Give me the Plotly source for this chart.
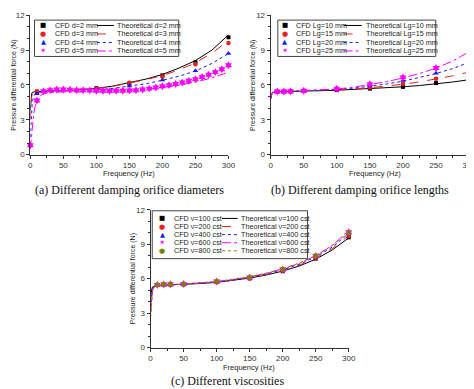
import plotly.graph_objects as go

W, H = 474, 389

# ---------------- data ----------------
F_TH = [0, 1, 2, 3, 5, 7, 10, 15, 20, 30, 40, 50, 75, 100, 125, 150, 175, 200, 225, 250, 275, 300]

# (a) damping orifice diameters
A_LABELS = ["d=2 mm", "d=3 mm", "d=4 mm", "d=5 mm"]
A_CFD_F = [10, 100, 150, 200, 250, 300]
A_CFD_D2 = [5.40, 5.72, 6.12, 6.82, 7.95, 10.10]
A_CFD_D3 = [5.45, 5.70, 6.18, 6.72, 7.78, 9.60]
A_CFD_D4 = [5.25, 5.62, 5.90, 6.42, 7.22, 8.70]
A_CFD_D5_F = [0, 10, 20, 30, 40, 50, 60, 70, 80, 90, 100, 110, 120, 130, 140, 150, 160, 170,
              180, 190, 200, 210, 220, 230, 240, 250, 260, 270, 280, 290, 300]
A_CFD_D5 = [0.8, 4.65, 5.45, 5.55, 5.60, 5.60, 5.58, 5.55, 5.55, 5.53, 5.50, 5.50, 5.48, 5.50,
            5.50, 5.52, 5.55, 5.60, 5.68, 5.78, 5.88, 5.98, 6.08, 6.20, 6.35, 6.50, 6.68, 6.88,
            7.10, 7.35, 7.70]
A_TH_D2 = [3.8, 4.9, 5.25, 5.35, 5.40, 5.42, 5.43, 5.44, 5.45, 5.46, 5.48, 5.50, 5.58, 5.70,
           5.90, 6.20, 6.50, 6.90, 7.45, 8.10, 9.00, 10.30]
A_TH_D3 = [3.0, 4.3, 5.0, 5.2, 5.35, 5.40, 5.42, 5.44, 5.45, 5.46, 5.48, 5.50, 5.57, 5.68,
           5.88, 6.15, 6.45, 6.80, 7.30, 7.90, 8.75, 9.80]
A_TH_D4 = [1.5, 2.8, 3.9, 4.5, 5.0, 5.2, 5.33, 5.40, 5.43, 5.45, 5.46, 5.47, 5.50, 5.58,
           5.70, 5.88, 6.10, 6.40, 6.75, 7.20, 7.85, 8.70]
A_TH_D5 = [0.5, 1.2, 1.9, 2.5, 3.4, 4.1, 4.6, 5.05, 5.25, 5.35, 5.38, 5.40, 5.40, 5.42,
           5.46, 5.52, 5.62, 5.78, 5.98, 6.25, 6.60, 7.10]

# (b) damping orifice lengths
B_LABELS = ["Lg=10 mm", "Lg=15 mm", "Lg=20 mm", "Lg=25 mm"]
B_CFD_F = [10, 20, 30, 50, 100, 150, 200, 250, 300]
B_CFD_L10 = [5.42, 5.43, 5.43, 5.47, 5.55, 5.68, 5.83, 6.16, 6.53]
B_CFD_L15 = [5.42, 5.43, 5.43, 5.48, 5.58, 5.78, 6.10, 6.53, 7.15]
B_CFD_L20 = [5.42, 5.43, 5.44, 5.48, 5.62, 5.90, 6.38, 7.00, 7.93]
B_CFD_L25 = [5.43, 5.44, 5.45, 5.50, 5.68, 6.07, 6.65, 7.46, 8.86]
B_TH_L10 = [4.8, 5.1, 5.28, 5.35, 5.38, 5.40, 5.42, 5.43, 5.44, 5.45, 5.46, 5.47, 5.50, 5.54,
            5.60, 5.66, 5.74, 5.84, 5.95, 6.08, 6.25, 6.45]
B_TH_L15 = [4.8, 5.1, 5.28, 5.35, 5.38, 5.40, 5.42, 5.43, 5.44, 5.45, 5.46, 5.47, 5.51, 5.56,
            5.65, 5.76, 5.90, 6.06, 6.26, 6.50, 6.78, 7.10]
B_TH_L20 = [4.8, 5.1, 5.28, 5.35, 5.38, 5.40, 5.42, 5.43, 5.44, 5.45, 5.46, 5.48, 5.53, 5.60,
            5.72, 5.88, 6.08, 6.32, 6.62, 6.98, 7.40, 7.95]
B_TH_L25 = [4.8, 5.1, 5.28, 5.35, 5.38, 5.40, 5.42, 5.43, 5.44, 5.45, 5.47, 5.49, 5.55, 5.65,
            5.80, 6.02, 6.28, 6.60, 6.98, 7.45, 8.05, 8.85]

# (c) viscosities
C_LABELS = ["ν=100 cst", "ν=200 cst", "ν=400 cst", "ν=600 cst", "ν=800 cst"]
C_CFD_F = [10, 20, 30, 50, 100, 150, 200, 250, 300]
C_CFD_V100 = [5.45, 5.48, 5.49, 5.50, 5.70, 6.02, 6.65, 7.75, 9.60]
C_CFD_V200 = [5.45, 5.49, 5.50, 5.51, 5.72, 6.05, 6.70, 7.82, 9.75]
C_CFD_V400 = [5.45, 5.50, 5.50, 5.52, 5.74, 6.08, 6.75, 7.90, 9.90]
C_CFD_V600 = [5.46, 5.50, 5.51, 5.53, 5.76, 6.10, 6.80, 7.97, 10.05]
C_CFD_V800 = [5.47, 5.51, 5.52, 5.54, 5.78, 6.13, 6.82, 8.00, 10.00]
C_TH_V100 = [4.4, 4.9, 5.15, 5.28, 5.36, 5.40, 5.42, 5.43, 5.44, 5.46, 5.48, 5.50, 5.58, 5.68,
             5.84, 6.05, 6.32, 6.66, 7.10, 7.70, 8.50, 9.55]
C_TH_V200 = [3.9, 4.6, 5.0, 5.2, 5.33, 5.38, 5.41, 5.43, 5.44, 5.46, 5.48, 5.50, 5.59, 5.70,
             5.87, 6.08, 6.36, 6.72, 7.17, 7.80, 8.62, 9.75]
C_TH_V400 = [3.4, 4.2, 4.8, 5.1, 5.30, 5.36, 5.40, 5.42, 5.44, 5.46, 5.48, 5.51, 5.60, 5.72,
             5.90, 6.12, 6.41, 6.78, 7.25, 7.90, 8.75, 9.95]
C_TH_V600 = [3.0, 3.9, 4.6, 5.0, 5.27, 5.34, 5.39, 5.42, 5.44, 5.46, 5.48, 5.51, 5.61, 5.74,
             5.93, 6.16, 6.46, 6.85, 7.33, 8.00, 8.88, 10.20]
C_TH_V800 = [2.6, 3.5, 4.35, 4.85, 5.22, 5.32, 5.38, 5.41, 5.43, 5.46, 5.48, 5.51, 5.62, 5.75,
             5.94, 6.18, 6.48, 6.87, 7.36, 8.03, 8.90, 10.05]

X_TICKS = [0, 50, 100, 150, 200, 250, 300]
Y_TICKS = [0, 3, 6, 9, 12]

CAPTIONS = ["(a) Different damping orifice diameters",
            "(b) Different damping orifice lengths",
            "(c) Different viscosities"]
X_TITLE = "Frequency (Hz)"
Y_TITLE = "Pressure differential force (N)"

# ---------------- styles ----------------
COLORS = ["#000000", "#e8201a", "#1a1aff", "#ff00ff", "#808000"]
SYMBOLS = ["square", "circle", "triangle-up", "hexagram", "circle"]
MSIZES = [4, 4.5, 5, 6, 5]
GLYPHS = ["■", "●", "▲", "✶", "●"]
GLYPH_SIZES = [6.5, 7, 6.5, 7.5, 7]
DASHES = ["solid", "dash", "dot", "dashdot", "dot"]

SANS = "Liberation Sans, Arial, sans-serif"
SERIF = "Liberation Serif, Times New Roman, serif"
AX = "#333333"


def px(x):
    return x / W


def py(y):
    return 1 - y / H


panels = [
    dict(cfd_f=[A_CFD_F, A_CFD_F, A_CFD_F, A_CFD_D5_F],
         cfd=[A_CFD_D2, A_CFD_D3, A_CFD_D4, A_CFD_D5],
         th=[A_TH_D2, A_TH_D3, A_TH_D4, A_TH_D5], labels=A_LABELS,
         box=(20.7, 222.7, 3.3, 146.0),
         leg=dict(x0=25, x1=172, y0=8.3, y1=45.5, rows=[13.8, 22.5, 31.2, 39.9],
                  mx=34, tx=43.5, lx0=88.5, lx1=106, ttx=107.5),
         xt=(121.7, 165), yt=(4.5, 75), cap=(122, 182)),
    dict(cfd_f=[B_CFD_F] * 4, cfd=[B_CFD_L10, B_CFD_L15, B_CFD_L20, B_CFD_L25],
         th=[B_TH_L10, B_TH_L15, B_TH_L20, B_TH_L25], labels=B_LABELS,
         box=(265.7, 468.0, 3.3, 146.0),
         leg=dict(x0=273, x1=434, y0=8.3, y1=45.5, rows=[13.8, 22.5, 31.2, 39.9],
                  mx=280, tx=289.3, lx0=340, lx1=358.5, ttx=360.7),
         xt=(371.7, 165), yt=(248.4, 75), cap=(357, 182)),
    dict(cfd_f=[C_CFD_F] * 5, cfd=[C_CFD_V100, C_CFD_V200, C_CFD_V400, C_CFD_V600, C_CFD_V800],
         th=[C_TH_V100, C_TH_V200, C_TH_V400, C_TH_V600, C_TH_V800], labels=C_LABELS,
         box=(143.3, 345.3, 202.5, 343.5),
         leg=dict(x0=145, x1=303.3, y0=203.5, y1=252.5,
                  rows=[211.3, 219.6, 227.9, 236.2, 244.5],
                  mx=155, tx=165, lx0=216, lx1=232, ttx=233.5),
         xt=(244, 363.5), yt=(125, 273), cap=(222, 378)),
]

fig = go.Figure()
layout = dict(width=W, height=H, margin=dict(l=0, r=0, t=0, b=0),
              paper_bgcolor="white", plot_bgcolor="white", showlegend=False)
shapes, annots = [], []

for i, p in enumerate(panels):
    k = "" if i == 0 else str(i + 1)
    xa, ya = "x" + k, "y" + k
    x0, x1, y0, y1 = p["box"]
    layout["xaxis" + k] = dict(
        domain=[px(x0), px(x1)], anchor=ya, range=[0, 300], tickvals=X_TICKS,
        ticks="outside", ticklen=3, tickwidth=1, tickcolor=AX, showline=True,
        linecolor=AX, linewidth=1, showgrid=False, zeroline=False,
        tickfont=dict(family=SANS, size=8, color=AX),
        minor=dict(dtick=25, tick0=0, ticks="outside", ticklen=2, tickcolor=AX, showgrid=False))
    layout["yaxis" + k] = dict(
        domain=[py(y1), py(y0)], anchor=xa, range=[0, 12], tickvals=Y_TICKS,
        ticks="outside", ticklen=3, tickwidth=1, tickcolor=AX, showline=True,
        linecolor=AX, linewidth=1, showgrid=False, zeroline=False,
        tickfont=dict(family=SANS, size=8, color=AX),
        minor=dict(dtick=1, tick0=0, ticks="outside", ticklen=2, tickcolor=AX, showgrid=False))

    for j, lab in enumerate(p["labels"]):
        fig.add_trace(go.Scatter(
            x=F_TH, y=p["th"][j], mode="lines", xaxis=xa, yaxis=ya,
            name="Theoretical " + lab,
            line=dict(color=COLORS[j], width=1, dash=DASHES[j])))
    for j, lab in enumerate(p["labels"]):
        fig.add_trace(go.Scatter(
            x=p["cfd_f"][j], y=p["cfd"][j], mode="markers", xaxis=xa, yaxis=ya,
            name="CFD " + lab, cliponaxis=False,
            marker=dict(color=COLORS[j], symbol=SYMBOLS[j], size=MSIZES[j], line=dict(width=0))))

    # manual two-column legend
    L = p["leg"]
    shapes.append(dict(type="rect", xref="paper", yref="paper",
                       x0=px(L["x0"]), x1=px(L["x1"]), y0=py(L["y1"]), y1=py(L["y0"]),
                       line=dict(color="#444444", width=1), fillcolor="white", layer="above"))
    for j, lab in enumerate(p["labels"]):
        ry = L["rows"][j]
        annots.append(dict(xref="paper", yref="paper", x=px(L["mx"]), y=py(ry),
                           text=GLYPHS[j], showarrow=False, xanchor="center", yanchor="middle",
                           font=dict(family="DejaVu Sans", size=GLYPH_SIZES[j], color=COLORS[j])))
        annots.append(dict(xref="paper", yref="paper", x=px(L["tx"]), y=py(ry),
                           text="CFD " + lab, showarrow=False, xanchor="left", yanchor="middle",
                           font=dict(family=SANS, size=7.2, color="#222222")))
        shapes.append(dict(type="line", xref="paper", yref="paper",
                           x0=px(L["lx0"]), x1=px(L["lx1"]), y0=py(ry), y1=py(ry),
                           line=dict(color=COLORS[j], width=1, dash=DASHES[j]), layer="above"))
        annots.append(dict(xref="paper", yref="paper", x=px(L["ttx"]), y=py(ry),
                           text="Theoretical " + lab, showarrow=False, xanchor="left",
                           yanchor="middle",
                           font=dict(family=SANS, size=7.2, color="#222222")))

    # axis titles and caption
    annots.append(dict(xref="paper", yref="paper", x=px(p["xt"][0]), y=py(p["xt"][1]),
                       text=X_TITLE, showarrow=False, xanchor="center", yanchor="middle",
                       borderpad=0,
                       font=dict(family=SANS, size=7.5, color="#222222")))
    annots.append(dict(xref="paper", yref="paper", x=px(p["yt"][0]), y=py(p["yt"][1]),
                       text=Y_TITLE, showarrow=False, xanchor="center", yanchor="middle",
                       textangle=-90, font=dict(family=SANS, size=7, color="#222222")))
    annots.append(dict(xref="paper", yref="paper", x=px(p["cap"][0]), y=py(p["cap"][1]),
                       text=CAPTIONS[i], showarrow=False, xanchor="center", yanchor="middle",
                       borderpad=0,
                       font=dict(family=SERIF, size=12, color="#111111")))

layout["shapes"] = shapes
layout["annotations"] = annots
fig.update_layout(**layout)
fig.write_html("out.html")
